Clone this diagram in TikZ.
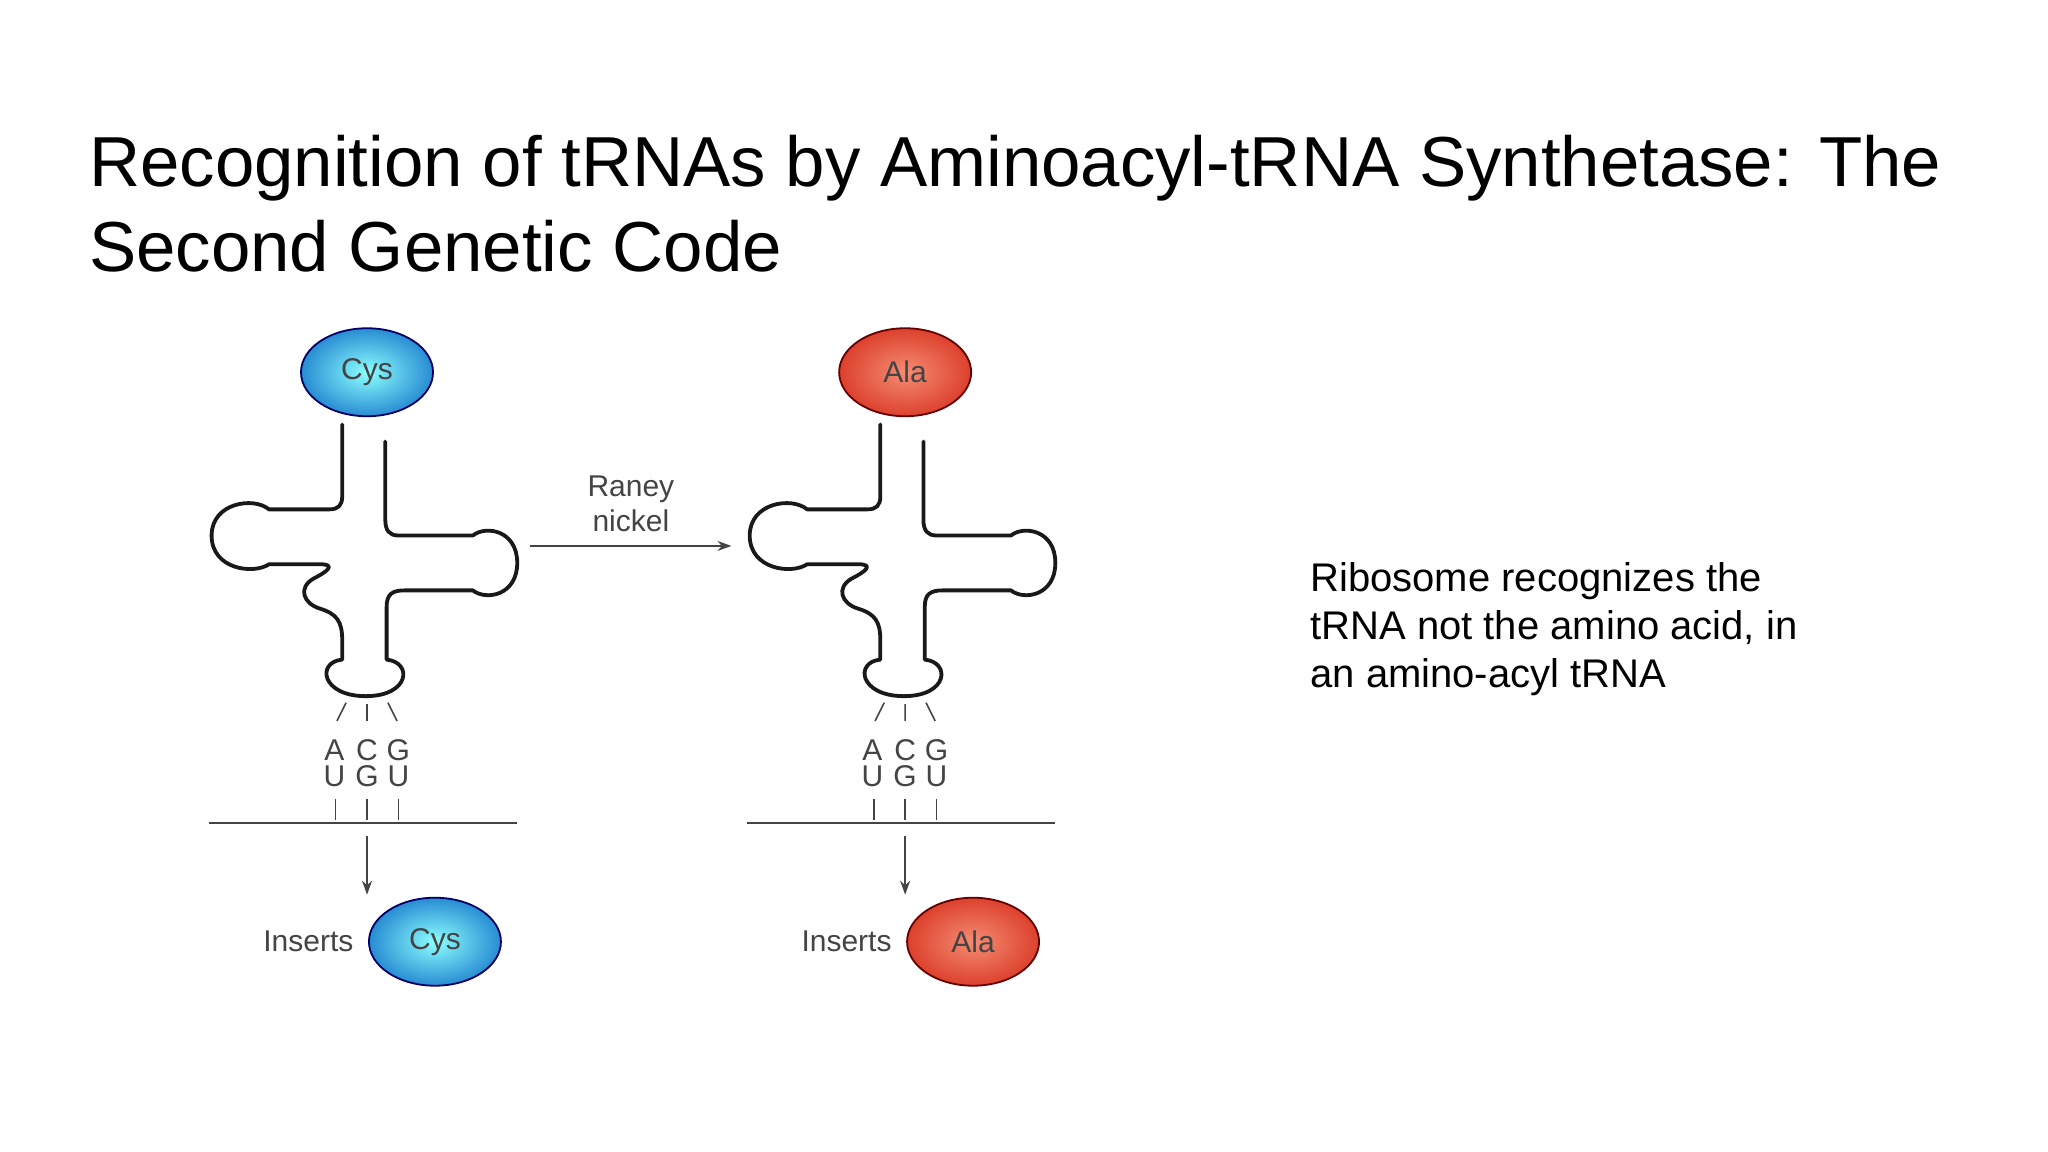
\documentclass[tikz,border=0pt]{standalone}
\usepackage{fontspec}
\setmainfont{Liberation Sans}
\usetikzlibrary{shapes.geometric,arrows.meta}
\definecolor{lab}{HTML}{444444}
\tikzset{
 strand/.style={line width=1.9pt, draw=black!90, line join=round, line cap=round},
 thin/.style={line width=0.8pt, draw=lab},
 bub/.style={ellipse, minimum width=66pt, minimum height=44pt, font=\fontsize{15}{18}\selectfont, text=lab, line width=0.9pt},
 blueb/.style={bub, draw=blue!40!black, inner color=cyan!45!white, outer color={rgb,255:red,40;green,140;blue,210}},
 redb/.style={bub, draw=red!40!black, inner color={rgb,255:red,245;green,140;blue,115}, outer color={rgb,255:red,220;green,65;blue,45}},
 lbl/.style={font=\fontsize{15}{18}\selectfont, text=lab},
 base/.style={font=\fontsize{15}{14}\selectfont, text=lab, inner sep=0pt},
}
\newcommand{\trna}[3]{%
\begin{scope}[xshift=#1*0.653pt]
 \node[#2] (top#3) at (281,285) {#3};
 \draw[strand] (262,325) -- (262,380) .. controls (262,387) and (259,390) .. (252,390) -- (206,390)
   .. controls (194,380) and (162,385) .. (162,410) .. controls (162,436) and (194,440) .. (206,432)
   -- (245,432) .. controls (258,432) and (250,438) .. (240,443) .. controls (228,450) and (232,462) .. (245,466)
   .. controls (258,470) and (262,476) .. (262,490) -- (262,505)
   .. controls (242,507) and (246,533) .. (280,533) .. controls (314,533) and (316,507) .. (296,505)
   -- (296,465) .. controls (296,455) and (300,452) .. (310,452) -- (362,452)
   .. controls (372,460) and (396,456) .. (396,431) .. controls (396,406) and (372,402) .. (362,410)
   -- (305,410) .. controls (298,410) and (295,406) .. (295,398) -- (295,338);
 \draw[thin] (265,538) -- (258,552) (281,539) -- (281,552) (297,538) -- (304,552);
 \node[base] at (256,574) {A}; \node[base] at (281,574) {C}; \node[base] at (305,574) {G};
 \node[base] at (256,594) {U}; \node[base] at (281,594) {G}; \node[base] at (305,594) {U};
 \draw[thin] (257,612) -- (257,628) (281,612) -- (281,628) (305,612) -- (305,628);
 \coordinate (ml#3) at (160,630); \coordinate (mr#3) at (396,630);
 \draw[thin] (ml#3) -- (mr#3);
 \node[#2] (bot#3) at (333,721) {#3};
 \node[lbl, anchor=east] (ins#3) at (276,721) {Inserts};
 \coordinate (as#3) at (281,640);
 \draw[thin, -{Stealth[length=7pt,width=5pt]}] (as#3) -- (281,685);
\end{scope}}
\begin{document}
\begin{tikzpicture}[x=0.653pt,y=-0.653pt]
\useasboundingbox[fill=white] (0,0) rectangle (1568,882);
\node[anchor=base west, inner sep=0pt, align=left, font=\fontsize{35.4}{42.4}\selectfont] (title) at (68,208)
 {Recognition of tRNAs by Aminoacyl-tRNA Synthetase: The\\Second Genetic Code};
\trna{0}{blueb}{Cys}
\trna{412}{redb}{Ala}
\coordinate (a1) at (406,418); \coordinate (a2) at (560,418);
\draw[thin, -{Stealth[length=7pt,width=5pt]}] (a1) -- (a2);
\node[lbl, align=center, font=\fontsize{15}{17.6}\selectfont] (rn) at (483,386) {Raney\\nickel};
\node[anchor=west, align=left, inner sep=0pt, font=\fontsize{20}{24}\selectfont] (txt) at (1003,482)
 {Ribosome recognizes the\\tRNA not the amino acid, in\\an amino-acyl tRNA};
\end{tikzpicture}
\end{document}
